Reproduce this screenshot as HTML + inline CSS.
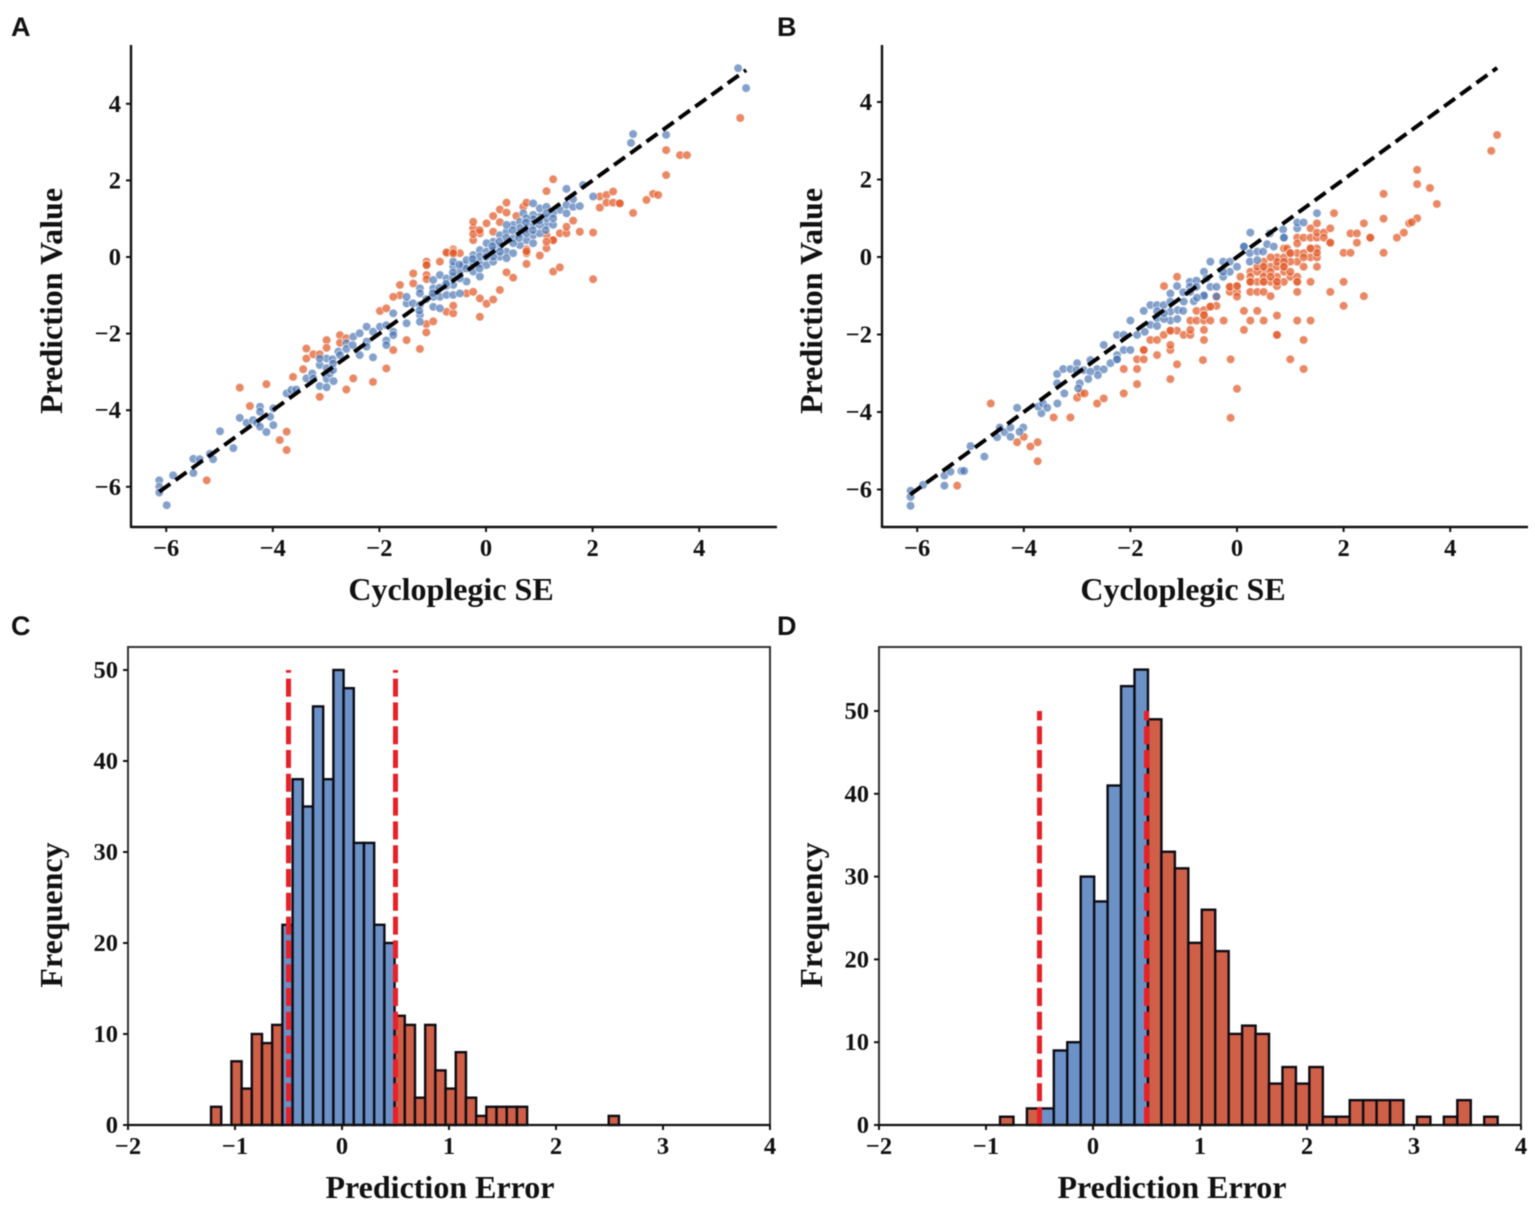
<!DOCTYPE html>
<html lang="en">
<head>
<meta charset="utf-8">
<title>Prediction scatter and error histograms</title>
<style>
html,body{margin:0;padding:0;background:#fff;width:1535px;height:1206px;overflow:hidden}
#figure{display:block;filter:blur(0.6px)}
text{fill:#111}
.tick{font:bold 24.5px "Liberation Serif",serif}
.title{font:bold 32px "Liberation Serif",serif}
.letter{font:bold 27px "Liberation Sans",sans-serif;fill:#111}
</style>
</head>
<body>
<svg id="figure" xmlns="http://www.w3.org/2000/svg" width="1535" height="1206" viewBox="0 0 1535 1206"></svg>
<script>
// ---------- Panel A data (cycloplegic SE, prediction value) ----------
const panelABlue = [[-6.13,-5.83],[-6.13,-6],[-6.13,-6.15],[-5.99,-6.48],[-5.87,-5.7],[-5.49,-5.64],[-5.49,-5.27],[-5.37,-5.28],[-5.18,-5.14],[-5.12,-5.28],[-4.99,-4.55],[-4.74,-4.99],[-4.62,-4.2],[-4.49,-4.33],[-4.37,-4.26],[-4.24,-3.91],[-4.24,-4.04],[-4.3,-4.33],[-4.24,-4.43],[-4.12,-4.57],[-3.99,-4.39],[-4.05,-4.17],[-3.99,-3.95],[-3.74,-3.56],[-3.65,-3.47],[-3.56,-3.46],[-3.37,-3.17],[-3.26,-3.04],[-3.12,-3.37],[-2.99,-3.4],[-2.99,-3.18],[-2.86,-3.24],[-2.93,-3.04],[-3.12,-2.82],[-2.99,-2.65],[-2.88,-2.67],[-2.77,-2.47],[-2.74,-2.56],[-2.62,-2.25],[-2.49,-2.08],[-2.37,-1.99],[-2.24,-1.82],[-2.12,-1.95],[-2.24,-2.21],[-2.24,-2.34],[-2.37,-2.56],[-2.12,-2.62],[-1.99,-1.82],[-1.87,-1.78],[-1.74,-1.47],[-1.74,-1.95],[-1.74,-2.04],[-1.87,-2.18],[-1.87,-2.3],[-1.49,-1.21],[-1.37,-1.21],[-1.49,-1.73],[-1.24,-1.51],[-1.24,-1.69],[-3.12,-2.65],[-2.99,-2.9],[-2.87,-2.95],[-3.24,-3.17],[-2.62,-2.4],[-2.87,-2.78],[-2.5,-2.3],[-1.49,-1.04],[-1.24,-0.82],[-1.24,-0.95],[-1.24,-1.25],[-0.99,-0.6],[-0.865,-0.47],[-0.74,-0.56],[-0.99,-0.82],[-0.865,-1.04],[-0.99,-1.3],[-0.865,-1.34],[-0.74,-0.99],[-0.615,-0.51],[-0.615,-0.73],[-0.615,-0.99],[-0.49,-0.95],[-0.365,-0.64],[-0.49,-0.56],[-0.615,-0.25],[-0.615,-0.12],[-0.43,-0.21],[-0.365,-0.08],[-0.24,0.05],[-0.115,0.18],[-0.24,-0.38],[-0.115,-0.51],[-0.115,-0.17],[0.01,-0.21],[0.135,-0.12],[0.26,0.01],[0.385,0.14],[0.51,0.1],[0.385,-0.03],[0.26,0.27],[0.135,0.4],[0.01,0.36],[0.01,0.14],[0.135,0.18],[0.26,0.57],[0.385,0.66],[0.51,0.84],[0.635,0.92],[0.385,0.84],[0.51,0.49],[0.635,0.31],[0.76,0.44],[0.885,0.36],[0.635,0.62],[0.76,0.75],[0.885,0.84],[0.885,0.57],[1.01,0.62],[1.135,0.84],[1.26,0.84],[1.01,1.05],[1.135,1.01],[0.885,1.1],[0.7,1.14],[0.885,1.4],[1.01,1.27],[1.135,1.31],[1.385,1.23],[1.51,1.14],[1.51,1.36],[1.26,1.14],[1.635,1.31],[1.76,1.33],[1.635,1.51],[1.51,1.78],[1.82,1.88],[2.01,1.58],[0.26,0.14],[0.51,0.36],[0.76,0.62],[0.635,0.75],[1.01,0.84],[0.885,0.99],[0.76,1.01],[1.135,1.14],[1.26,1.01],[0.135,0.01],[-0.115,0.01],[-0.24,-0.17],[-0.49,-0.38],[-0.74,-0.75],[-0.99,-1.04],[4.73,4.93],[4.88,4.41],[2.76,3.21],[2.72,2.98],[3.38,3.19],[0.38,0.5],[0.5,0.7],[0.62,0.5],[0.75,0.9],[0.88,0.7],[1,0.95],[1.12,0.7],[0.25,0.4],[0.12,0.28],[0,0],[-0.12,-0.3],[-0.25,-0.05],[-0.37,-0.3],[-0.5,-0.2],[-0.62,-0.4],[-0.75,-0.7],[-0.87,-0.8],[-1,-0.95],[-1.12,-1.1],[-1.25,-1.4]];
const panelARed = [[-4.62,-3.41],[-4.12,-3.32],[-4.43,-3.89],[-3.74,-4.56],[-3.87,-4.78],[-3.74,-5.04],[-5.24,-5.83],[-3.62,-3.13],[-3.43,-2.93],[-3.37,-2.65],[-3.37,-2.39],[-3.24,-2.54],[-3.12,-2.54],[-2.99,-2.17],[-2.99,-2.37],[-2.74,-2.04],[-2.74,-2.24],[-2.62,-2.12],[-2.49,-3.17],[-2.62,-3.46],[-3.12,-3.65],[-2.12,-3.26],[-1.87,-2.91],[-1.74,-2.43],[-1.49,-2.17],[-1.24,-2.4],[-1.99,-1.41],[-1.87,-1.34],[-1.12,-1.75],[-1.12,-1.97],[-1.615,-1],[-1.74,-1.04],[-1.615,-0.73],[-1.365,-0.43],[-1.365,-0.69],[-1.115,-0.12],[-1.115,-0.21],[-1.115,-0.47],[-1.115,-0.58],[-0.99,-1.68],[-0.865,-0.12],[-0.74,0.1],[-0.615,0.2],[-0.615,0.08],[-0.49,0.1],[-0.74,-1.43],[-0.615,-1.47],[-0.615,-1.27],[-0.365,-0.95],[-0.24,-0.91],[-0.115,-1.08],[0.01,-1.22],[0.135,-1.11],[0.26,-0.86],[-0.115,-1.56],[0.385,-0.4],[0.51,-0.54],[-0.24,0.44],[-0.24,0.75],[-0.24,0.92],[-0.115,0.62],[0.01,0.88],[0.135,1.07],[0.26,1.24],[0.385,1.42],[0.385,1.16],[0.26,0.91],[0.135,0.66],[0.57,1.07],[0.7,1.31],[0.76,1.42],[0.76,-0.18],[0.76,0.2],[0.76,0.1],[1.01,0.04],[1.135,0.23],[1.135,0.57],[1.26,0.44],[1.385,0.62],[1.51,0.62],[1.51,0.79],[1.635,0.95],[1.76,0.66],[2.01,0.64],[1.26,-0.38],[1.385,-0.27],[2.01,-0.58],[1.135,1.72],[1.26,2.03],[2.135,1.58],[2.26,1.62],[2.385,1.71],[2.135,1.29],[2.26,1.42],[2.385,1.42],[2.51,1.4],[2.76,1.15],[3.01,1.49],[3.135,1.65],[3.23,1.62],[3.38,2.79],[3.38,2.14],[3.64,2.66],[3.77,2.66],[4.77,3.63],[-0.615,0.14],[-0.74,0.12],[-0.615,0.1],[0.76,0.15],[1.26,0.44],[2.51,1.4],[-1.115,-0.21],[-0.24,0.6],[-0.12,0.7],[1.135,0.4]];

// ---------- Panel B data (cycloplegic SE, prediction value) ----------
const panelBBlue = [[-6.125,-6.03],[-6.125,-6.19],[-6.125,-6.42],[-5.89,-5.88],[-5.49,-5.64],[-5.49,-5.9],[-5.375,-5.54],[-5.17,-5.52],[-5.12,-5.52],[-5,-4.88],[-4.74,-5.15],[-4.5,-4.65],[-4.45,-4.4],[-4.36,-4.52],[-4.25,-4.4],[-4.25,-4.64],[-4.125,-3.89],[-4.01,-4.4],[-4.08,-4.51],[-3.67,-4.03],[-3.73,-3.86],[-3.64,-3.78],[-3.56,-3.89],[-3.37,-3.78],[-3.24,-3.52],[-3.375,-3.26],[-3.375,-3.02],[-3.26,-2.89],[-3.125,-2.89],[-3,-2.74],[-3.01,-2.92],[-2.875,-2.92],[-2.75,-2.66],[-2.625,-2.89],[-2.75,-2.96],[-2.5,-2.9],[-2.61,-3.05],[-2.79,-3.15],[-2.95,-3.26],[-2.98,-3.39],[-2.5,-2.27],[-2.375,-2.74],[-2.25,-2.01],[-2.125,-2.01],[-2.25,-2.53],[-2.125,-2.4],[-2,-2.4],[-2.25,-2.64],[-2,-1.64],[-1.875,-2.01],[-1.75,-1.39],[-1.625,-1.24],[-1.5,-1.24],[-1.375,-1.24],[-1.5,-1.58],[-1.625,-1.75],[-1.5,-1.78],[-1.25,-1.64],[-1.25,-1.41],[-1.11,-1.37],[-1.73,-1.93],[-1.25,-0.94],[-1.125,-0.75],[-1.01,-0.91],[-1.01,-1.39],[-0.885,-0.64],[-0.885,-0.77],[-0.76,-0.61],[-0.81,-1.14],[-0.62,-0.38],[-0.62,-0.98],[-0.5,-0.12],[-0.5,-0.77],[-0.385,-0.77],[-0.385,-1.02],[-0.26,-0.51],[-0.135,-0.38],[-0.26,-0.12],[-0.135,-0.12],[0,-0.25],[0.13,0.27],[0.25,0.63],[0.24,0.1],[0.38,0.14],[0.24,-0.12],[0.38,-0.08],[0.49,0.14],[0.565,0.33],[0.69,0.27],[0.615,0.61],[0.865,0.71],[0.88,0.5],[1.13,0.74],[1.13,0.89],[1.25,0.89],[1.5,1.13],[-0.76,-0.77],[-0.26,-0.38],[-0.57,-0.55],[-1.37,-1.6],[-1.5,-1.4],[-1.12,-1.6],[-1.25,-1.15],[-1,-1.15],[0.88,0.5],[0.13,0.27],[-0.62,-1],[-2.25,-2.64],[-0.88,-0.9],[-0.75,-1.05],[-1.37,-1.45]];
const panelBRed = [[-4.62,-3.78],[-5.25,-5.9],[-4.125,-4.78],[-4,-4.64],[-3.875,-4.89],[-3.74,-4.78],[-3.74,-5.27],[-3.44,-4.14],[-3.125,-4.14],[-3,-3.63],[-2.93,-3.52],[-2.86,-3.52],[-2.625,-3.78],[-2.5,-3.65],[-2.125,-3.52],[-1.875,-3.28],[-2.125,-2.89],[-1.875,-2.89],[-1.875,-2.64],[-1.75,-2.64],[-1.75,-2.4],[-1.5,-2.53],[-1.25,-3.15],[-1.125,-2.77],[-1.25,-2.4],[-1.25,-2.27],[-1.625,-2.14],[-1.5,-2.14],[-1.375,-2.01],[-1.25,-1.9],[-1.125,-1.9],[-1.37,-0.75],[-1.125,-0.51],[-1,-2.01],[-0.875,-2.01],[-0.875,-1.88],[-0.875,-1.64],[-0.76,-1.64],[-0.76,-1.39],[-0.62,-1.37],[-0.62,-1.5],[-0.62,-1.64],[-0.62,-1.88],[-0.62,-2.14],[-0.5,-1.64],[-0.5,-1.28],[-0.385,-1.26],[-0.385,-1.02],[-0.25,-1.64],[-0.135,-0.77],[-0.135,-0.9],[0,-0.75],[0,-0.9],[0,-1.02],[0.065,-0.51],[0.13,-1.39],[0.13,-1.88],[0.25,-1.64],[0.38,-1.39],[0.5,-1.64],[0.75,-1.51],[0.75,-2.01],[1.13,-1.64],[1.38,-1.64],[1.25,-2.14],[-0.12,-2.64],[1,-2.64],[1.25,-2.89],[0,-3.4],[-0.12,-4.15],[0.25,-0.38],[0.25,-0.51],[0.25,-0.64],[0.38,-0.64],[0.5,-0.64],[0.63,-0.64],[0.75,-0.64],[0.88,-0.64],[1.13,-0.64],[1,-0.51],[1.13,-0.51],[0.5,-0.25],[0.5,-0.38],[0.5,-0.12],[0.63,-0.25],[0.63,-0.38],[0.75,-0.01],[0.75,-0.25],[0.88,-0.25],[0.88,-0.38],[1,-0.38],[0.75,-0.51],[0.38,-0.38],[0.38,-0.25],[0.25,-0.9],[0.38,-0.9],[0.5,-0.9],[0.63,-1.01],[0.75,-0.75],[1.13,-0.9],[1.38,-0.64],[1.75,-0.9],[2,-0.64],[2,-1.26],[2.38,-1.01],[1.5,-0.25],[1.25,-0.25],[1.13,-0.12],[1,-0.12],[0.88,-0.01],[0.88,0.22],[0.94,0.22],[1,0.1],[1.13,0.1],[1.25,0.1],[1.38,-0.01],[1.5,-0.01],[1.25,-0.01],[1.38,0.22],[1.5,0.22],[1.5,0.11],[1.13,0.5],[1.13,0.35],[1.25,0.5],[1.38,0.5],[1.5,0.5],[1.38,0.74],[1.5,0.63],[1.63,0.63],[1.63,0.5],[1.75,0.74],[1.75,0.37],[1.5,0.87],[1.82,1.13],[2,0.11],[2.13,0.11],[2.13,0.61],[2.25,0.61],[2.25,0.37],[2.38,0.87],[2.5,0.5],[2.75,0.99],[2.75,1.63],[2.75,0.11],[3,0.5],[3.13,0.63],[3.23,0.87],[0.75,-0.12],[0.63,-0.01],[0.88,-0.12],[0.5,-0.51],[0.63,-0.51],[4.88,3.15],[4.77,2.74],[3.38,2.25],[3.38,1.88],[3.62,1.78],[3.75,1.37],[3.38,1],[3.28,0.9],[-0.64,-2.66],[0.5,-0.64],[0.25,-0.64],[0.75,-0.64],[1.13,-0.64],[0.5,-0.25],[0.88,-0.25],[1,0.1],[1.38,0.22],[-0.135,-0.77],[0,-0.75],[-0.5,-1.28],[-0.62,-1.5],[-1.75,-2.4],[0.75,-2.01],[-1.25,-1.9],[1.75,0.37],[2.5,0.5]];

// Identity reference line end points shared by both scatter panels
const identityLine = [-6.13, 4.88];

// ---------- Histogram data ----------
const histCCounts = [2,0,7,4,10,9,11,22,38,35,46,38,50,48,31,31,22,20,12,11,3,11,6,4,8,3,1,2,2,2,2,0,0,0,0,0,0,0,0,1];
const histCStart = -1.224;
const histCWidth = 0.0953;
const histCBlueRange = [7, 17];
const histDCounts = [1,0,2,2,9,10,30,27,41,53,55,49,33,31,22,26,21,11,12,11,5,7,5,7,1,1,3,3,3,3,0,1,0,1,3,0,1];
const histDStart = -0.869;
const histDWidth = 0.1257;
const histDBlueRange = [3, 10];
const errorLimits = [-0.5, 0.5];
const limitLineTopC = 50;
const limitLineTopD = 50;

// ---------- Tick labels ----------
const scatterXTicks = [-6,-4,-2,0,2,4];
const scatterYTicks = [-6,-4,-2,0,2,4];
const histXTicks = [-2,-1,0,1,2,3,4];
const histCYTicks = [0,10,20,30,40,50];
const histDYTicks = [0,10,20,30,40,50];

const NS = 'http://www.w3.org/2000/svg';
const root = document.getElementById('figure');

function add(parent, tag, attrs, txt) {
  const el = document.createElementNS(NS, tag);
  for (const k in attrs) el.setAttribute(k, attrs[k]);
  if (txt !== undefined) el.textContent = txt;
  parent.appendChild(el);
  return el;
}
function fmt(v) { return v < 0 ? '\u2212' + Math.abs(v) : String(v); }
function linear(v0, p0, scale) { return function (v) { return p0 + (v - v0) * scale; }; }

function drawTicks(g, xTicks, yTicks, sx, sy, left, bottom, tickW) {
  xTicks.forEach(function (t) {
    const m = add(g, 'line', {x1: sx(t), x2: sx(t), y1: bottom, y2: bottom + 5, stroke: '#111', 'stroke-width': tickW});
    
    
    const l = add(g, 'text', {class: 'tick', x: sx(t), y: bottom + 29, 'text-anchor': 'middle'}, fmt(t));
    
    
  });
  yTicks.forEach(function (t) {
    const m = add(g, 'line', {x1: left - 5, x2: left, y1: sy(t), y2: sy(t), stroke: '#111', 'stroke-width': tickW});
    
    
    const l = add(g, 'text', {class: 'tick', x: left - 10, y: sy(t) + 8, 'text-anchor': 'end'}, fmt(t));
    
    
  });
}

function drawTitles(g, xTitle, xCenter, xBase, yTitle, yBase, yCenter) {
  const xt = add(g, 'text', {class: 'title', x: xCenter, y: xBase, 'text-anchor': 'middle'}, xTitle);
  
  
  const yt = add(g, 'text', {class: 'title', x: 0, y: 0, 'text-anchor': 'middle', transform: 'translate(' + yBase + ',' + yCenter + ') rotate(-90)'}, yTitle);
  
  
}

function drawLetter(g, letter, x, y) {
  const t = add(g, 'text', {class: 'letter', x: x, y: y}, letter);
  
  
}

function drawScatter(name, blue, red, cfg) {
  const g = add(root, 'g', {});
  
  
  const sx = linear(0, cfg.x0, cfg.xs);
  const sy = linear(0, cfg.y0, -cfg.ys);

  red.forEach(function (p) {
    const c = add(g, 'circle', {cx: sx(p[0]), cy: sy(p[1]), r: 4.3, fill: '#e25a28', 'fill-opacity': 0.72, stroke: '#fff', 'stroke-opacity': 0.65, 'stroke-width': 0.9});
    
    
  });
  blue.forEach(function (p) {
    const c = add(g, 'circle', {cx: sx(p[0]), cy: sy(p[1]), r: 4.3, fill: '#4a74b2', 'fill-opacity': 0.68, stroke: '#fff', 'stroke-opacity': 0.65, 'stroke-width': 0.9});
    
    
  });

  const line = add(g, 'line', {x1: sx(identityLine[0]), y1: sy(identityLine[0]), x2: sx(identityLine[1]), y2: sy(identityLine[1]), stroke: '#000', 'stroke-width': 4, 'stroke-dasharray': '13.5 6.5'});
  
  

  const ls = add(g, 'line', {x1: cfg.left, x2: cfg.left, y1: 45, y2: cfg.bottom + 1, stroke: '#111', 'stroke-width': 2.4});
  
  
  const bs = add(g, 'line', {x1: cfg.left, x2: cfg.right, y1: cfg.bottom, y2: cfg.bottom, stroke: '#111', 'stroke-width': 2.4});
  
  

  drawTicks(g, scatterXTicks, scatterYTicks, sx, sy, cfg.left, cfg.bottom, 2);
  drawTitles(g, 'Cycloplegic SE', cfg.xTitleX, 600, 'Prediction Value', cfg.yTitleX, 301);
  drawLetter(g, cfg.letter, cfg.letterX, 36);
}

function drawHist(name, counts, start, width, blueRange, limitTop, yTicks, cfg) {
  const g = add(root, 'g', {});
  
  
  const sx = linear(0, cfg.x0, 107);
  const sy = linear(0, cfg.y0, -cfg.ys);

  const frame = add(g, 'rect', {x: cfg.left, y: cfg.top, width: cfg.right - cfg.left, height: cfg.y0 - cfg.top, fill: 'none', stroke: '#333', 'stroke-width': 2});
  
  

  counts.forEach(function (n, i) {
    if (n <= 0) return;
    const isBlue = i >= blueRange[0] && i <= blueRange[1];
    const x = sx(start + i * width);
    const w = sx(start + (i + 1) * width) - x;
    const b = add(g, 'rect', {x: x, y: sy(n), width: w, height: sy(0) - sy(n), fill: isBlue ? '#6c91c7' : '#d05f47', stroke: '#0c0c14', 'stroke-width': 2.4});
    
    
  });

  errorLimits.forEach(function (v) {
    const l = add(g, 'line', {x1: sx(v), x2: sx(v), y1: sy(0), y2: sy(limitTop), stroke: '#ea2028', 'stroke-width': 5, 'stroke-dasharray': '18 5.8'});
    
    
  });

  const base = add(g, 'line', {x1: cfg.left, x2: cfg.right, y1: cfg.y0, y2: cfg.y0, stroke: '#111', 'stroke-width': 2.2});
  
  

  drawTicks(g, histXTicks, yTicks, sx, sy, cfg.left, cfg.y0, 2);
  drawTitles(g, 'Prediction Error', cfg.xTitleX, 1198, 'Frequency', cfg.yTitleX, 915);
  drawLetter(g, cfg.letter, cfg.letterX, 635);
}

drawScatter('scatter-panel-a', panelABlue, panelARed, {x0: 486, xs: 53.3, y0: 257, ys: 38.3, left: 131, right: 777, bottom: 527, xTitleX: 451, yTitleX: 62, letter: 'A', letterX: 11});
drawScatter('scatter-panel-b', panelBBlue, panelBRed, {x0: 1237, xs: 53.3, y0: 257, ys: 38.75, left: 882, right: 1528, bottom: 527, xTitleX: 1183, yTitleX: 822, letter: 'B', letterX: 777});
drawHist('histogram-panel-c', histCCounts, histCStart, histCWidth, histCBlueRange, limitLineTopC, histCYTicks, {x0: 342, y0: 1125, ys: 9.1, left: 128, right: 770, top: 647, xTitleX: 440, yTitleX: 62, letter: 'C', letterX: 11});
drawHist('histogram-panel-d', histDCounts, histDStart, histDWidth, histDBlueRange, limitLineTopD, histDYTicks, {x0: 1093, y0: 1125, ys: 8.28, left: 879, right: 1521, top: 647, xTitleX: 1172, yTitleX: 822, letter: 'D', letterX: 777});
</script>
</body>
</html>
